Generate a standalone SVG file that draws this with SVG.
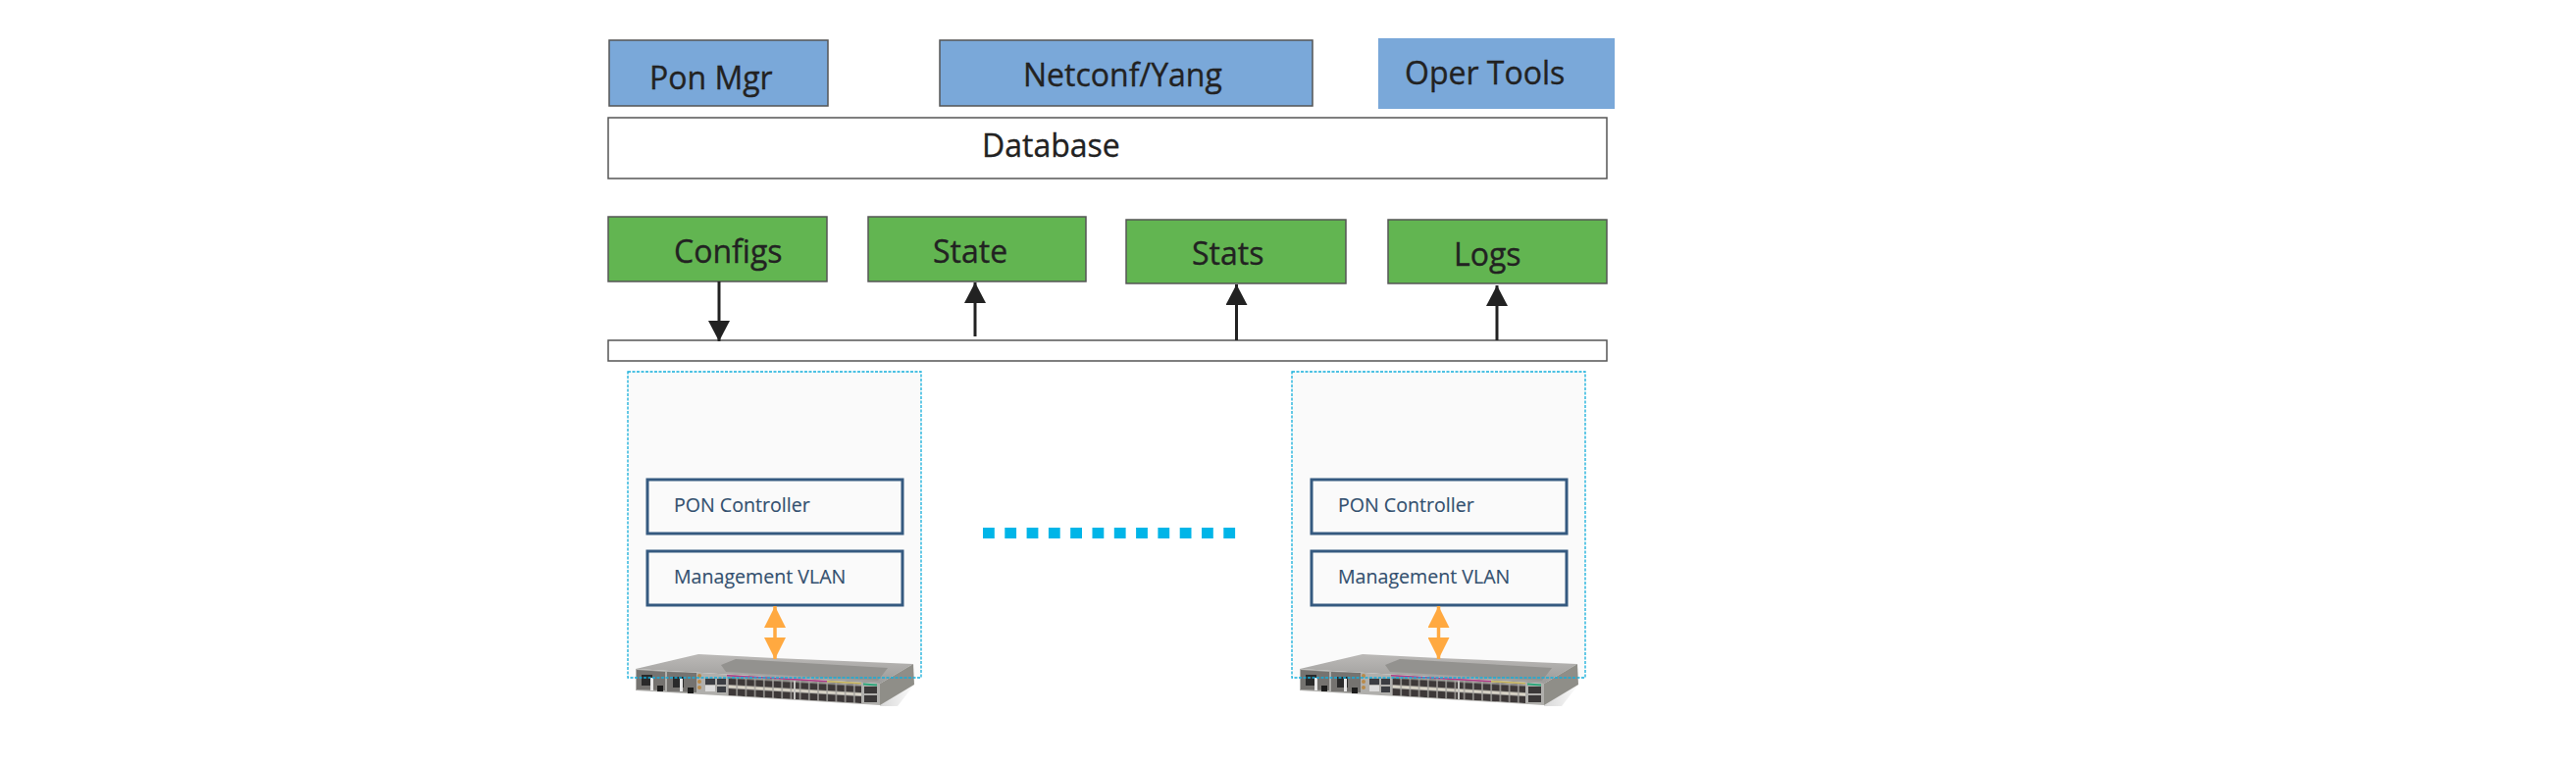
<svg xmlns="http://www.w3.org/2000/svg" xmlns:xlink="http://www.w3.org/1999/xlink" width="2626" height="780" viewBox="0 0 2626 780">
<style>
text{font-family:"Open Sans","Noto Sans","Liberation Sans",sans-serif}
.big{font-size:32px;fill:#222;stroke:#222;stroke-width:.35}
.small{font-size:19.6px;fill:#33506f;stroke:#33506f;stroke-width:.15}
.blue{fill:#7aa8d9;stroke:#555;stroke-width:1.5}
.green{fill:#62b551;stroke:#555;stroke-width:1.5}
.white{fill:#fff;stroke:#555;stroke-width:1.5}
.inner{fill:#fafafa;stroke:#355a80;stroke-width:3}
.panel{fill:#fafafa}
.outline{fill:none;stroke:#14aedb;stroke-width:1.3;stroke-dasharray:3 1.5}
.wire{stroke:#222;stroke-width:3;fill:none}
.amber{stroke:#ffa940;stroke-width:3.5;fill:none}
</style>
<defs>
<marker id="head" markerUnits="userSpaceOnUse" markerWidth="22" markerHeight="22" refX="21" refY="11" orient="auto"><path d="M0 0L21 11L0 22z" fill="#222"/></marker>
<marker id="amberEnd" markerUnits="userSpaceOnUse" markerWidth="22" markerHeight="22" refX="22" refY="11" orient="auto"><path d="M0 0L22 11L0 22z" fill="#ffa940"/></marker>
<marker id="amberStart" markerUnits="userSpaceOnUse" markerWidth="22" markerHeight="22" refX="0" refY="11" orient="auto"><path d="M22 0L0 11L22 22z" fill="#ffa940"/></marker>
<pattern id="ports" patternUnits="userSpaceOnUse" width="9.2" height="19" patternTransform="translate(742 691) skewY(3.4)">
<rect width="9.2" height="19" fill="#a5a39f"/>
<rect x="0.7" y="0.5" width="7.8" height="7" fill="#3c3838"/>
<rect x="0.7" y="7.5" width="7.8" height="2.6" fill="#ddd8cb"/>
<rect x="0.7" y="11" width="7.8" height="7" fill="#3c3838"/>
</pattern>
<filter id="soft" x="-5%" y="-10%" width="110%" height="120%"><feGaussianBlur stdDeviation="0.55"/></filter>
<linearGradient id="topFace" x1="0" y1="0" x2="0" y2="1"><stop offset="0" stop-color="#bbb9b7"/><stop offset="1" stop-color="#9c9b99"/></linearGradient>
<linearGradient id="shade" x1="0" y1="0" x2="1" y2="0"><stop offset="0" stop-color="#d8d8d8"/><stop offset="1" stop-color="#fcfcfc"/></linearGradient>
<g id="sw" filter="url(#soft)">
<polygon points="897,700 932,698 915,720 897,720" fill="url(#shade)"/>
<polygon points="648,682 712,667 790,671 931,677 897,697" fill="url(#topFace)"/>
<polygon points="735,678 750,672 905,681 895,694 740,685" fill="#93928f"/>
<polygon points="897,697 931,677 932,698 897,719" fill="#8f8e88"/>
<polygon points="648,682 897,697 897,719 648,704" fill="#b0afac"/>
<polygon points="649,683 678,685 678,704 649,703" fill="#747370"/>
<polygon points="680,685 710,686 710,706 680,705" fill="#747370"/>
<rect x="654" y="688" width="11" height="11" fill="#2a2a2a"/>
<rect x="686" y="690" width="11" height="11" fill="#2a2a2a"/>
<rect x="663" y="691" width="3" height="13" fill="#e8e8e8"/>
<rect x="693" y="692" width="3" height="13" fill="#e8e8e8"/>
<rect x="670" y="699" width="6" height="6" fill="#1a1a1a"/>
<rect x="701" y="701" width="6" height="6" fill="#1a1a1a"/>
<circle cx="713" cy="689" r="2" fill="#b98a4a"/>
<circle cx="713" cy="695" r="2" fill="#b98a4a"/>
<circle cx="713" cy="701" r="2" fill="#b98a4a"/>
<rect x="719" y="692" width="10" height="6" fill="#3a3d42"/>
<rect x="719" y="699" width="10" height="6" fill="#dcdcdc"/>
<rect x="731" y="692" width="9" height="6" fill="#3a3d42"/>
<rect x="731" y="700" width="9" height="6" fill="#3a3d42"/>
<polygon points="742,690 878,698 878,717 742,709" fill="url(#ports)"/>
<polygon points="809,694 811,694 811,713 809,713" fill="#c4c3c0"/>
<polygon points="741,688 843,694 843,695.5 741,689.5" fill="#b03a86"/>
<polygon points="843,694 878,696 878,697.5 843,695.5" fill="#c9b65a"/>
<polygon points="880,696.5 894,697.5 894,699.5 880,698.5" fill="#2fa87c"/>
<rect x="881" y="700" width="13" height="7" fill="#3a3838"/>
<rect x="881" y="709" width="13" height="7" fill="#3a3838"/>
</g>
</defs>
<rect width="2626" height="780" fill="#fff"/>
<g id="pon-mgr"><rect class="blue" x="621" y="41" width="223" height="67"/><text class="big" x="662" y="91">Pon Mgr</text></g>
<g id="netconf-yang"><rect class="blue" x="958" y="41" width="380" height="67"/><text class="big" x="1043" y="88">Netconf/Yang</text></g>
<g id="oper-tools"><rect fill="#7aa8d9" x="1405" y="39" width="241" height="72"/><text class="big" x="1432" y="86">Oper Tools</text></g>
<g id="database"><rect class="white" x="620" y="120" width="1018" height="62"/><text class="big" x="1001" y="160">Database</text></g>
<g id="configs"><rect class="green" x="620" y="221" width="223" height="66"/><text class="big" x="687" y="268">Configs</text></g>
<g id="state"><rect class="green" x="885" y="221" width="222" height="66"/><text class="big" x="951" y="268">State</text></g>
<g id="stats"><rect class="green" x="1148" y="224" width="224" height="65"/><text class="big" x="1215" y="270">Stats</text></g>
<g id="logs"><rect class="green" x="1415" y="224" width="223" height="65"/><text class="big" x="1482" y="271">Logs</text></g>
<g id="bus"><rect class="white" x="620" y="347" width="1018" height="21"/></g>
<g id="controller-1">
<rect class="panel" x="640" y="379" width="299" height="312"/>
<rect class="inner" x="660" y="489" width="260" height="55"/><text class="small" x="687" y="522">PON Controller</text>
<rect class="inner" x="660" y="562" width="260" height="55"/><text class="small" x="687" y="595">Management VLAN</text>
</g>
<g id="controller-2">
<rect class="panel" x="1317" y="379" width="299" height="312"/>
<rect class="inner" x="1337" y="489" width="260" height="55"/><text class="small" x="1364" y="522">PON Controller</text>
<rect class="inner" x="1337" y="562" width="260" height="55"/><text class="small" x="1364" y="595">Management VLAN</text>
</g>
<g id="switch-1"><use href="#sw" xlink:href="#sw"/></g>
<g id="switch-2"><use href="#sw" xlink:href="#sw" x="677"/></g>
<g id="controller-outlines">
<rect class="outline" x="640" y="379" width="299" height="312"/>
<rect class="outline" x="1317" y="379" width="299" height="312"/>
</g>
<g id="connectors">
<line class="wire" x1="733" y1="287" x2="733" y2="348" marker-end="url(#head)"/>
<line class="wire" x1="994" y1="343" x2="994" y2="288" marker-end="url(#head)"/>
<line class="wire" x1="1260.5" y1="347" x2="1260.5" y2="290" marker-end="url(#head)"/>
<line class="wire" x1="1526" y1="347" x2="1526" y2="291" marker-end="url(#head)"/>
<line class="amber" x1="790" y1="618" x2="790" y2="672" marker-start="url(#amberStart)" marker-end="url(#amberEnd)"/>
<line class="amber" x1="1466.5" y1="618" x2="1466.5" y2="672" marker-start="url(#amberStart)" marker-end="url(#amberEnd)"/>
<line id="ellipsis" x1="1002" y1="543.5" x2="1260" y2="543.5" stroke="#00b5e8" stroke-width="11" stroke-dasharray="11.8 10.5"/>
</g>
</svg>
